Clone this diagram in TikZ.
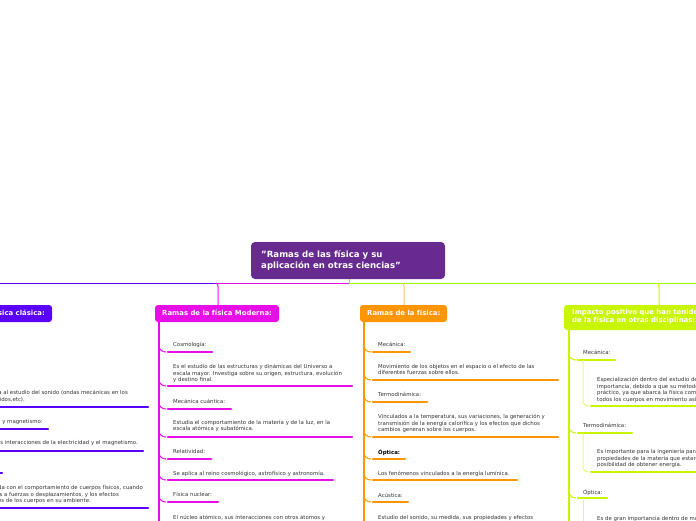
\documentclass[tikz,border=0pt]{standalone}
\usepackage{fontspec}
\setmainfont{DejaVu Sans}
\definecolor{cpur}{HTML}{672B8F}
\definecolor{cblu}{HTML}{5A00FF}
\definecolor{cpnk}{HTML}{E80EE8}
\definecolor{cora}{HTML}{FF9500}
\definecolor{cgrn}{HTML}{C8F500}
\definecolor{ctxt}{HTML}{333333}
\tikzset{
 txt/.style={font=\fontsize{5.4}{6.6}\selectfont, text=ctxt, inner sep=0, align=left, anchor=north west},
 txtr/.style={txt, anchor=north east, align=right},
 box/.style={rounded corners=3pt, text=white, font=\fontsize{6.9}{8}\selectfont\bfseries, align=left, anchor=north west, inner sep=0},
 ul/.style={line width=2.4pt, line cap=round},
 conn/.style={line width=1pt}
}
\begin{document}
\begin{tikzpicture}[x=1pt,y=-1pt]
\useasboundingbox (0,0) rectangle (696,520);
\clip (0,0) rectangle (696,520);
% main connectors
\draw[conn,cblu] (0,283) -- (218,283);
\draw[conn,cpnk] (218,283) -- (349,283);
\draw[conn,cgrn!80!green] (349,283) -- (696,283);
\draw[conn,cgrn!80!green] (349,278) -- (349,283);
\draw[conn,cpnk] (216,283) to[out=0,in=90] (218,287) -- (218,306);
\draw[conn,cora!60] (402,283) to[out=0,in=90] (404,287) -- (404,306);
\draw[conn,cgrn] (657,283) to[out=0,in=90] (659,287) -- (659,306);
% title
\fill[cpur,rounded corners=4pt] (251,242) rectangle (445,279);
\node[box,font=\fontsize{8.6}{11}\selectfont\bfseries] (title) at (261,250) {"Ramas de las física y su\\aplicación en otras ciencias"};
% branch boxes
\fill[cblu,rounded corners=3pt] (-20,305) rectangle (52,322);
\node[box,anchor=north east] (clas) at (45,309.5) {Ramas de la física clásica:};
\fill[cpnk,rounded corners=3pt] (155,305) rectangle (279,322);
\node[box] (mod) at (162,309.5) {Ramas de la física Moderna:};
\fill[cora,rounded corners=3pt] (360,305) rectangle (447,322);
\node[box] (ram) at (367,309.5) {Ramas de la física:};
\fill[cgrn,rounded corners=3pt] (564,305) rectangle (720,330);
\node[box] (imp) at (572,309.5) {Impacto positivo que han tenido las ramas\\de la física en otras disciplinas:};
% verticals
\draw[ul,cpnk,line width=1.6pt] (159,322) -- (159,525);
\draw[ul,cora,line width=1.6pt] (364,322) -- (364,525);
\draw[ul,cgrn,line width=1.6pt] (569,330) -- (569,525);
% pink items
\foreach \y/\e in {352/212,386/352,409/231,437/352,459/211,480/333,502/218}{
 \draw[conn,cpnk] (159,\y-6) to[out=-90,in=180] (166,\y);
 \draw[ul,cpnk] (168,\y) -- (\e,\y);}
\node[txt] (p1) at (173,342) {Cosmología:};
\node[txt] (p2) at (173,364) {Es el estudio de las estructuras y dinámicas del Universo a\\escala mayor. Investiga sobre su origen, estructura, evolución\\y destino final.};
\node[txt] (p3) at (173,399) {Mecánica cuántica:};
\node[txt] (p4) at (173,420) {Estudia el comportamiento de la materia y de la luz, en la\\escala atómica y subatómica.};
\node[txt] (p5) at (173,449) {Relatividad:};
\node[txt] (p6) at (173,471) {Se aplica al reino cosmológico, astrofísico y astronomía.};
\node[txt] (p7) at (173,492) {Física nuclear:};
\node[txt] (p8) at (173,515) {El núcleo atómico, sus interacciones con otros átomos y};
% orange items
\foreach \y/\e in {352/410,380/558,402/427,437/558,459/405,480/517,502/408}{
 \draw[conn,cora] (364,\y-6) to[out=-90,in=180] (371,\y);
 \draw[ul,cora] (373,\y) -- (\e,\y);}
\node[txt] (o1) at (378,342) {Mecánica:};
\node[txt] (o2) at (378,364) {Movimiento de los objetos en el espacio o el efecto de las\\diferentes fuerzas sobre ellos.};
\node[txt] (o3) at (378,392) {Termodinámica:};
\node[txt] (o4) at (378,414) {Vinculados a la temperatura, sus variaciones, la generación y\\transmisión de la energía calorífica y los efectos que dichos\\cambios generan sobre los cuerpos.};
\node[txt,text=black,font=\fontsize{5.4}{6.6}\selectfont\bfseries] (o5) at (378,449) {Óptica:};
\node[txt] (o6) at (378,471) {Los fenómenos vinculados a la energía lumínica.};
\node[txt] (o7) at (378,493) {Acústica:};
\node[txt] (o8) at (378,515) {Estudio del sonido, su medida, sus propiedades y efectos};
% green items
\foreach \y/\e in {360/615,433/632,498/607}{
 \draw[conn,cgrn] (569,\y-6) to[out=-90,in=180] (576,\y);
 \draw[ul,cgrn] (578,\y) -- (\e,\y);}
\draw[conn,cgrn!50] (583,360) -- (583,402) to[out=-90,in=180] (589,406);
\draw[ul,cgrn] (591,406) -- (700,406);
\draw[conn,cgrn!50] (583,433) -- (583,468) to[out=-90,in=180] (589,472);
\draw[ul,cgrn] (591,472) -- (700,472);
\draw[conn,cgrn!50] (583,498) -- (583,525);
\node[txt] (g1) at (583,350) {Mecánica:};
\node[txt] (g2) at (597,377) {Especialización dentro del estudio de la física de gran\\importancia, debido a que su método de estudio es más\\práctico, ya que abarca la física como objeto de estudio a\\todos los cuerpos en movimiento así como sus efectos.};
\node[txt] (g3) at (583,423) {Termodinámica:};
\node[txt] (g4) at (597,449) {Es importante para la ingeniería para conocer las\\propiedades de la materia que estaremos usando y la\\posibilidad de obtener energía.};
\node[txt] (g5) at (583,489) {Óptica:};
\node[txt] (g6) at (597,516) {Es de gran importancia dentro de muchas disciplinas};
% blue (clipped) items
\draw[ul,cblu] (-10,407) -- (148,407);
\draw[ul,cblu] (-10,429) -- (48,429);
\draw[ul,cblu] (-10,451) -- (143,451);
\draw[ul,cblu] (-10,473) -- (2,473);
\draw[ul,cblu] (-10,508) -- (148,508);
\node[txtr] (b1) at (128,390) {Acústica: la rama de la física dedicada al estudio del sonido  (ondas mecánicas en los};
\node[txtr] (b1b) at (25,397) {gases, líquidos, sólidos,etc).};
\node[txtr] (b2) at (43,419) {Electricidad y magnetismo:};
\node[txtr] (b3) at (138,440) {Estudia las interacciones de la electricidad y el magnetismo.};
\node[txtr] (b4) at (143,485) {Mecánica: relacionada con el comportamiento de cuerpos físicos, cuando};
\node[txtr] (b4b) at (119,492) {son sometidos a fuerzas o desplazamientos, y los efectos};
\node[txtr] (b4c) at (91,498) {subsecuentes de los cuerpos en su ambiente.};
\end{tikzpicture}
\end{document}
